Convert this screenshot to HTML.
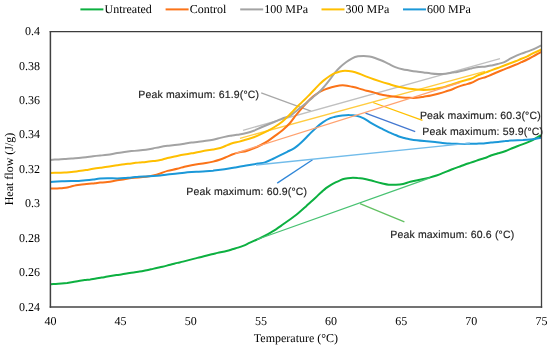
<!DOCTYPE html>
<html><head><meta charset="utf-8"><style>
html,body{margin:0;padding:0;background:#fff;}
body{width:550px;height:348px;overflow:hidden;}
svg{display:block;will-change:transform;text-rendering:geometricPrecision;}
.s{font-family:"Liberation Serif",serif;font-size:12px;fill:#000;}
.a{font-family:"Liberation Sans",sans-serif;font-size:10.5px;letter-spacing:0.16px;fill:#222;stroke:#222;stroke-width:0.15px;}
</style></head><body>
<svg width="550" height="348" viewBox="0 0 550 348">
<line x1="261.2" y1="92.9" x2="311.0" y2="111.2" stroke="#a8a8a8" stroke-width="1.3"/>
<line x1="373.0" y1="102.5" x2="422.5" y2="120.4" stroke="#ffc000" stroke-width="1.3"/>
<line x1="365.5" y1="113.2" x2="415.2" y2="131.7" stroke="#4478d0" stroke-width="1.3"/>
<line x1="277.2" y1="183.1" x2="312.6" y2="159.8" stroke="#2f86d8" stroke-width="1.3"/>
<line x1="360.0" y1="203.6" x2="404.4" y2="221.9" stroke="#62c062" stroke-width="1.3"/>
<line x1="243.0" y1="130.3" x2="500.0" y2="58.7" stroke="#c0c0c0" stroke-width="1.3"/>
<line x1="240.0" y1="138.3" x2="485.0" y2="71.4" stroke="#ffcc40" stroke-width="1.3"/>
<path d="M50.4,284.3 C51.3,284.2 53.9,284.1 55.7,284.0 C57.6,283.9 59.6,283.7 61.5,283.5 C63.4,283.3 65.3,283.1 67.2,282.9 C69.1,282.6 71.1,282.3 73.0,282.0 C74.9,281.7 76.8,281.2 78.7,280.9 C80.6,280.6 82.6,280.4 84.5,280.1 C86.4,279.9 88.3,279.6 90.2,279.4 C92.1,279.1 94.1,278.9 96.0,278.6 C97.9,278.3 99.8,277.9 101.7,277.6 C103.6,277.3 105.0,277.0 107.5,276.6 C110.0,276.2 114.0,275.5 116.5,275.1 C119.0,274.7 120.3,274.6 122.2,274.3 C124.1,274.0 126.1,273.6 128.0,273.3 C129.9,273.0 131.8,272.7 133.7,272.4 C135.6,272.1 137.6,271.9 139.5,271.6 C141.4,271.3 143.3,270.9 145.2,270.5 C147.1,270.1 149.1,269.7 151.0,269.3 C152.9,268.9 154.8,268.3 156.7,267.9 C158.6,267.5 160.2,267.2 162.5,266.7 C164.8,266.2 167.8,265.3 170.3,264.7 C172.8,264.1 175.4,263.4 177.5,262.9 C179.6,262.4 181.1,262.1 183.0,261.6 C184.9,261.1 186.8,260.6 188.7,260.1 C190.6,259.6 192.6,259.1 194.5,258.6 C196.4,258.1 198.3,257.7 200.2,257.2 C202.1,256.7 204.1,256.3 206.0,255.8 C207.9,255.3 209.8,254.8 211.7,254.3 C213.6,253.8 215.0,253.5 217.5,252.9 C220.0,252.3 224.1,251.6 226.5,251.0 C228.9,250.4 230.3,249.9 232.2,249.3 C234.1,248.7 236.1,248.2 238.0,247.6 C239.9,247.0 241.7,246.4 243.7,245.6 C245.7,244.8 247.9,243.5 250.0,242.6 C252.1,241.7 254.2,240.8 256.0,240.0 C257.8,239.2 259.3,238.4 261.0,237.6 C262.7,236.8 264.3,236.0 266.0,235.1 C267.7,234.2 269.3,233.3 271.0,232.3 C272.7,231.3 274.3,230.4 276.0,229.3 C277.7,228.2 279.3,227.1 281.0,225.9 C282.7,224.7 284.3,223.4 286.0,222.2 C287.7,221.0 289.3,219.9 291.0,218.7 C292.7,217.5 294.3,216.3 296.0,215.0 C297.7,213.7 299.3,212.2 301.0,210.8 C302.7,209.4 304.3,207.9 306.0,206.4 C307.7,204.9 309.3,203.3 311.0,201.8 C312.7,200.3 314.3,198.8 316.0,197.2 C317.7,195.6 319.3,194.0 321.0,192.5 C322.7,191.0 324.3,189.4 326.0,188.1 C327.7,186.8 329.3,185.8 331.0,184.8 C332.7,183.8 334.4,183.0 336.0,182.2 C337.6,181.4 339.1,180.8 340.5,180.2 C341.9,179.6 342.9,179.2 344.6,178.8 C346.3,178.4 348.5,178.0 350.7,177.9 C352.9,177.8 354.9,177.8 357.6,178.1 C360.4,178.3 364.4,178.8 367.2,179.4 C370.0,180.0 372.0,180.8 374.4,181.4 C376.8,182.1 379.1,182.8 381.5,183.3 C383.9,183.8 386.3,184.5 388.7,184.7 C391.1,184.9 393.5,184.8 395.9,184.7 C398.3,184.6 400.7,184.4 403.1,183.9 C405.5,183.4 407.9,182.4 410.3,181.8 C412.7,181.2 415.5,180.6 417.5,180.2 C419.5,179.8 420.2,179.6 422.2,179.2 C424.2,178.8 427.0,178.2 429.4,177.6 C431.8,177.0 434.5,176.2 436.5,175.5 C438.5,174.8 439.8,174.3 441.5,173.6 C443.2,172.9 445.1,172.2 447.0,171.4 C448.9,170.6 451.0,169.8 453.0,169.0 C455.0,168.2 456.9,167.6 458.8,166.9 C460.7,166.2 462.6,165.4 464.5,164.7 C466.4,164.0 468.1,163.5 470.0,162.9 C471.9,162.3 474.1,161.6 476.0,160.9 C477.9,160.2 479.7,159.6 481.5,159.0 C483.3,158.4 485.4,157.9 487.0,157.3 C488.6,156.7 489.0,156.2 490.9,155.5 C492.8,154.8 495.6,154.1 498.1,153.3 C500.6,152.6 503.5,151.8 505.7,151.0 C507.9,150.2 509.6,149.3 511.5,148.5 C513.4,147.7 515.3,146.9 517.2,146.2 C519.1,145.5 521.1,144.8 523.0,144.1 C524.9,143.4 526.8,142.7 528.7,141.8 C530.6,141.0 532.5,140.1 534.5,139.0 C536.5,137.9 539.9,135.7 541.0,135.0" fill="none" stroke="#0cb040" stroke-width="2" stroke-linejoin="round" stroke-linecap="butt"/>
<path d="M50.4,188.5 C51.5,188.5 55.3,188.5 57.2,188.4 C59.1,188.3 60.3,188.3 62.0,188.2 C63.7,188.0 65.8,187.8 67.3,187.5 C68.8,187.2 69.8,186.8 71.0,186.5 C72.2,186.2 73.3,185.9 74.5,185.6 C75.7,185.3 76.8,185.1 78.0,184.9 C79.2,184.7 80.0,184.7 81.8,184.5 C83.6,184.3 86.9,184.0 89.1,183.8 C91.3,183.6 93.2,183.5 95.0,183.3 C96.8,183.1 97.9,182.8 100.0,182.6 C102.1,182.4 104.6,182.5 107.5,182.1 C110.4,181.7 114.4,180.8 117.2,180.3 C120.0,179.8 122.0,179.7 124.4,179.3 C126.8,178.9 129.1,178.4 131.5,178.1 C133.9,177.8 136.3,177.6 138.7,177.4 C141.1,177.2 143.5,177.0 145.9,176.7 C148.3,176.4 150.7,176.0 153.1,175.5 C155.5,175.0 157.9,174.3 160.3,173.5 C162.7,172.7 164.7,171.7 167.5,170.9 C170.3,170.1 174.4,169.5 177.2,168.8 C180.0,168.1 182.0,167.3 184.4,166.7 C186.8,166.1 189.1,165.6 191.5,165.2 C193.9,164.8 196.3,164.4 198.7,164.1 C201.1,163.8 203.5,163.5 205.9,163.1 C208.3,162.7 210.7,162.2 213.1,161.6 C215.5,161.0 217.9,160.3 220.3,159.5 C222.7,158.7 225.5,157.4 227.5,156.6 C229.5,155.8 230.2,155.2 232.2,154.5 C234.2,153.8 237.0,153.0 239.4,152.4 C241.8,151.8 244.1,151.7 246.5,151.0 C248.9,150.3 251.3,149.4 253.7,148.4 C256.1,147.4 258.5,146.3 260.9,145.0 C263.3,143.7 265.7,142.4 268.1,140.8 C270.5,139.2 272.9,137.4 275.3,135.6 C277.7,133.9 280.1,132.4 282.5,130.3 C284.9,128.2 287.8,125.5 290.0,123.0 C292.2,120.5 293.8,117.9 295.7,115.5 C297.6,113.1 299.6,110.8 301.5,108.6 C303.4,106.4 305.3,104.2 307.2,102.2 C309.1,100.2 311.1,98.1 313.0,96.5 C314.9,94.9 316.8,93.7 318.7,92.5 C320.6,91.3 322.4,90.5 324.5,89.6 C326.6,88.7 329.1,87.9 331.6,87.2 C334.1,86.5 337.3,85.8 339.5,85.5 C341.7,85.2 342.9,85.2 345.0,85.4 C347.1,85.6 349.8,86.3 352.2,86.8 C354.6,87.3 357.0,87.9 359.4,88.6 C361.8,89.2 364.1,90.1 366.5,90.7 C368.9,91.3 371.3,91.8 373.7,92.4 C376.1,93.0 378.5,93.9 380.9,94.5 C383.3,95.1 385.7,95.4 388.1,95.8 C390.5,96.2 392.9,96.5 395.3,96.8 C397.7,97.1 400.1,97.2 402.5,97.4 C404.9,97.6 407.1,97.7 409.4,97.8 C411.7,97.9 414.1,98.0 416.5,97.8 C418.9,97.6 421.3,97.1 423.7,96.7 C426.1,96.3 428.5,96.0 430.9,95.5 C433.3,95.0 435.7,94.5 438.1,93.8 C440.5,93.1 442.9,92.4 445.3,91.6 C447.7,90.8 450.5,90.0 452.5,89.2 C454.5,88.5 455.2,87.8 457.2,87.1 C459.2,86.4 462.0,85.5 464.4,84.8 C466.8,84.1 469.1,83.7 471.5,82.8 C473.9,81.9 476.3,80.2 478.7,79.2 C481.1,78.2 483.7,77.8 485.9,77.0 C488.1,76.2 489.8,75.3 491.8,74.5 C493.8,73.7 495.7,72.8 497.7,72.0 C499.7,71.2 501.6,70.4 503.6,69.6 C505.6,68.8 507.5,68.0 509.5,67.2 C511.5,66.4 513.5,65.6 515.5,64.8 C517.5,64.0 519.4,63.1 521.4,62.2 C523.4,61.3 525.3,60.5 527.3,59.5 C529.3,58.5 530.8,57.6 533.2,56.3 C535.6,55.0 540.1,52.5 541.5,51.8" fill="none" stroke="#fb7318" stroke-width="2" stroke-linejoin="round" stroke-linecap="butt"/>
<path d="M50.4,160.0 C51.5,159.9 54.9,159.6 57.2,159.4 C59.5,159.2 62.0,159.1 64.4,158.9 C66.8,158.7 69.1,158.6 71.5,158.4 C73.9,158.2 76.3,158.1 78.7,157.9 C81.1,157.7 83.5,157.5 85.9,157.2 C88.3,156.9 90.7,156.5 93.1,156.2 C95.5,155.9 97.9,155.7 100.3,155.5 C102.7,155.3 104.7,155.2 107.5,154.8 C110.3,154.4 114.4,153.5 117.2,153.0 C120.0,152.5 122.0,152.3 124.4,152.0 C126.8,151.7 129.1,151.4 131.5,151.1 C133.9,150.8 136.3,150.6 138.7,150.4 C141.1,150.2 143.5,150.0 145.9,149.7 C148.3,149.4 150.7,148.9 153.1,148.4 C155.5,147.9 157.9,147.3 160.3,146.9 C162.7,146.5 164.7,146.2 167.5,145.8 C170.3,145.5 174.4,145.2 177.2,144.8 C180.0,144.5 182.0,144.1 184.4,143.7 C186.8,143.3 189.1,142.8 191.5,142.5 C193.9,142.2 196.3,142.1 198.7,141.8 C201.1,141.5 203.5,141.2 205.9,140.8 C208.3,140.5 210.7,140.2 213.1,139.7 C215.5,139.2 217.9,138.5 220.3,137.9 C222.7,137.3 225.5,136.6 227.5,136.2 C229.5,135.8 230.2,135.9 232.2,135.6 C234.2,135.3 237.0,134.8 239.4,134.4 C241.8,134.0 244.1,133.6 246.5,133.0 C248.9,132.4 251.3,131.7 253.7,130.8 C256.1,129.9 258.5,128.6 260.9,127.5 C263.3,126.5 265.7,125.5 268.1,124.5 C270.5,123.5 272.9,122.5 275.3,121.5 C277.7,120.5 280.1,119.4 282.5,118.4 C284.9,117.5 287.8,117.0 290.0,115.8 C292.2,114.6 294.0,112.8 295.7,111.5 C297.4,110.2 298.4,109.2 300.0,108.0 C301.6,106.8 303.3,105.4 305.0,104.0 C306.7,102.6 308.3,101.2 310.0,99.8 C311.7,98.4 313.3,97.0 315.0,95.6 C316.7,94.2 318.3,92.8 320.0,91.2 C321.7,89.6 323.3,87.7 325.0,85.7 C326.7,83.7 328.3,81.6 330.0,79.4 C331.7,77.2 333.3,74.6 335.0,72.6 C336.7,70.6 338.2,68.9 340.0,67.2 C341.8,65.5 344.0,63.7 346.0,62.2 C348.0,60.7 350.2,59.3 352.2,58.3 C354.2,57.3 356.1,56.7 358.0,56.3 C359.9,55.9 361.8,55.9 363.7,55.9 C365.6,55.9 367.6,56.1 369.5,56.5 C371.4,56.9 373.1,57.4 375.0,58.0 C376.9,58.6 378.7,59.4 380.9,60.3 C383.1,61.2 385.7,62.5 388.1,63.6 C390.5,64.7 392.9,66.2 395.3,67.1 C397.7,68.0 400.1,68.7 402.5,69.2 C404.9,69.8 407.1,70.0 409.4,70.4 C411.7,70.8 414.1,71.2 416.5,71.5 C418.9,71.8 421.3,72.2 423.7,72.5 C426.1,72.8 428.5,73.2 430.9,73.4 C433.3,73.7 435.7,73.9 438.1,74.0 C440.5,74.1 442.9,74.0 445.3,73.8 C447.7,73.6 450.5,72.9 452.5,72.6 C454.5,72.3 455.2,72.3 457.2,71.9 C459.2,71.5 462.0,70.8 464.4,70.2 C466.8,69.6 469.1,69.0 471.5,68.4 C473.9,67.9 476.3,67.2 478.7,66.9 C481.1,66.6 483.7,66.7 485.9,66.4 C488.1,66.2 489.8,65.8 491.8,65.4 C493.8,65.0 495.7,64.5 497.7,64.0 C499.7,63.5 502.1,63.0 503.6,62.4 C505.2,61.8 505.8,61.3 507.0,60.6 C508.2,59.9 509.2,59.2 510.7,58.4 C512.2,57.6 514.2,56.7 516.0,55.9 C517.8,55.1 519.5,54.3 521.4,53.6 C523.3,52.9 525.3,52.3 527.3,51.6 C529.3,50.9 530.8,50.5 533.2,49.4 C535.6,48.3 540.1,46.0 541.5,45.3" fill="none" stroke="#a3a3a3" stroke-width="2" stroke-linejoin="round" stroke-linecap="butt"/>
<path d="M50.4,173.0 C51.5,172.9 54.9,172.8 57.2,172.7 C59.5,172.6 62.0,172.7 64.4,172.6 C66.8,172.5 69.1,172.2 71.5,172.0 C73.9,171.8 76.3,171.4 78.7,171.1 C81.1,170.8 83.5,170.5 85.9,170.1 C88.3,169.7 90.7,169.1 93.1,168.7 C95.5,168.3 97.9,168.0 100.3,167.7 C102.7,167.4 104.7,167.2 107.5,166.8 C110.3,166.4 114.4,165.6 117.2,165.2 C120.0,164.8 122.0,164.5 124.4,164.2 C126.8,163.9 129.1,163.7 131.5,163.4 C133.9,163.1 136.3,162.8 138.7,162.6 C141.1,162.3 143.5,162.2 145.9,161.9 C148.3,161.7 150.7,161.4 153.1,161.1 C155.5,160.8 157.9,160.6 160.3,160.1 C162.7,159.6 164.7,158.7 167.5,158.0 C170.3,157.3 174.4,156.5 177.2,155.9 C180.0,155.3 182.0,154.9 184.4,154.5 C186.8,154.1 189.1,153.7 191.5,153.3 C193.9,152.9 196.3,152.4 198.7,152.0 C201.1,151.6 203.5,151.0 205.9,150.6 C208.3,150.2 210.7,149.8 213.1,149.4 C215.5,149.0 217.9,148.7 220.3,148.0 C222.7,147.3 225.5,145.9 227.5,145.1 C229.5,144.3 230.2,143.9 232.2,143.3 C234.2,142.7 237.0,142.2 239.4,141.6 C241.8,141.0 244.1,140.2 246.5,139.5 C248.9,138.8 251.3,138.2 253.7,137.3 C256.1,136.4 258.5,135.3 260.9,134.2 C263.3,133.1 265.7,132.0 268.1,130.7 C270.5,129.4 272.9,128.0 275.3,126.5 C277.7,125.0 280.1,123.5 282.5,121.5 C284.9,119.5 287.9,116.3 290.0,114.2 C292.1,112.1 293.3,110.7 295.0,109.0 C296.7,107.3 298.3,105.7 300.0,104.1 C301.7,102.5 303.3,100.8 305.0,99.2 C306.7,97.6 308.3,95.9 310.0,94.2 C311.7,92.5 313.3,90.8 315.0,89.0 C316.7,87.2 318.3,85.3 320.0,83.7 C321.7,82.1 323.3,80.7 325.0,79.4 C326.7,78.1 328.3,76.8 330.0,75.8 C331.7,74.8 333.3,73.9 335.0,73.2 C336.7,72.5 338.3,71.9 340.0,71.5 C341.7,71.1 343.0,70.8 345.0,70.8 C347.0,70.8 349.8,71.1 352.2,71.6 C354.6,72.1 357.0,72.9 359.4,73.7 C361.8,74.5 364.1,75.7 366.5,76.6 C368.9,77.5 371.3,78.4 373.7,79.2 C376.1,80.0 378.5,80.8 380.9,81.6 C383.3,82.4 385.7,83.1 388.1,83.8 C390.5,84.5 392.9,85.4 395.3,86.0 C397.7,86.6 400.1,87.1 402.5,87.6 C404.9,88.1 407.1,88.5 409.4,88.8 C411.7,89.1 414.1,89.3 416.5,89.5 C418.9,89.7 421.3,89.9 423.7,89.9 C426.1,89.9 428.5,89.8 430.9,89.5 C433.3,89.2 435.7,88.8 438.1,88.3 C440.5,87.8 442.9,87.3 445.3,86.6 C447.7,85.9 450.5,84.8 452.5,84.2 C454.5,83.6 455.2,83.4 457.2,82.8 C459.2,82.2 462.0,81.2 464.4,80.5 C466.8,79.8 469.1,79.4 471.5,78.5 C473.9,77.6 476.3,76.0 478.7,75.0 C481.1,74.0 483.7,73.2 485.9,72.4 C488.1,71.6 489.8,70.8 491.8,70.1 C493.8,69.4 495.7,68.7 497.7,68.0 C499.7,67.3 501.6,66.5 503.6,65.8 C505.6,65.0 507.5,64.2 509.5,63.5 C511.5,62.8 513.5,62.1 515.5,61.3 C517.5,60.5 519.4,59.6 521.4,58.8 C523.4,58.0 525.3,57.2 527.3,56.3 C529.3,55.4 530.8,54.3 533.2,53.2 C535.6,52.1 540.1,50.1 541.5,49.5" fill="none" stroke="#ffbf00" stroke-width="2" stroke-linejoin="round" stroke-linecap="butt"/>
<path d="M50.4,181.9 C51.5,181.8 54.9,181.6 57.2,181.5 C59.5,181.4 62.0,181.3 64.4,181.2 C66.8,181.1 69.1,181.1 71.5,181.1 C73.9,181.1 76.3,181.0 78.7,180.9 C81.1,180.8 83.5,180.5 85.9,180.3 C88.3,180.1 90.8,179.8 93.1,179.5 C95.4,179.2 97.6,178.8 100.0,178.6 C102.4,178.4 104.6,178.3 107.5,178.3 C110.4,178.3 114.4,178.4 117.2,178.4 C120.0,178.4 122.0,178.3 124.4,178.1 C126.8,177.9 129.1,177.6 131.5,177.4 C133.9,177.2 136.3,176.9 138.7,176.7 C141.1,176.5 143.5,176.5 145.9,176.4 C148.3,176.3 150.7,176.1 153.1,175.9 C155.5,175.8 157.9,175.7 160.3,175.5 C162.7,175.3 164.7,174.8 167.5,174.5 C170.3,174.2 174.4,173.9 177.2,173.6 C180.0,173.3 182.0,173.0 184.4,172.7 C186.8,172.4 189.1,172.2 191.5,172.0 C193.9,171.8 196.3,171.8 198.7,171.7 C201.1,171.6 203.5,171.5 205.9,171.3 C208.3,171.1 210.7,170.9 213.1,170.7 C215.5,170.4 217.9,170.1 220.3,169.8 C222.7,169.5 225.1,169.2 227.5,168.8 C229.9,168.4 232.3,168.0 235.0,167.5 C237.7,167.0 240.9,166.4 243.6,166.0 C246.3,165.6 248.6,165.2 251.0,164.8 C253.4,164.4 255.7,164.0 258.0,163.6 C260.3,163.2 262.6,163.2 265.0,162.4 C267.4,161.6 270.2,160.2 272.7,159.0 C275.2,157.8 277.6,156.6 280.0,155.4 C282.4,154.2 284.8,153.0 287.2,151.8 C289.6,150.6 292.0,149.7 294.4,148.1 C296.8,146.5 299.1,144.4 301.5,142.2 C303.9,140.0 306.3,137.4 308.7,135.0 C311.1,132.6 313.5,130.0 315.9,127.9 C318.3,125.7 320.7,123.7 323.1,122.1 C325.5,120.5 328.3,119.1 330.3,118.2 C332.3,117.3 333.0,117.3 335.0,116.8 C337.0,116.3 339.8,115.7 342.2,115.4 C344.6,115.1 347.0,114.8 349.4,114.9 C351.8,114.9 354.1,115.1 356.5,115.7 C358.9,116.3 361.3,117.1 363.7,118.3 C366.1,119.5 368.4,121.4 370.9,122.9 C373.4,124.4 376.6,126.0 378.6,127.1 C380.6,128.2 381.6,128.6 383.0,129.3 C384.4,130.0 385.8,130.7 387.2,131.4 C388.6,132.1 390.1,132.7 391.5,133.3 C392.9,133.9 394.2,134.5 395.5,135.0 C396.8,135.5 397.9,136.1 399.0,136.5 C400.1,136.9 401.1,137.2 402.3,137.5 C403.5,137.8 404.8,138.2 406.0,138.5 C407.2,138.8 407.7,138.9 409.5,139.2 C411.3,139.5 414.4,140.0 416.8,140.3 C419.2,140.6 421.1,140.8 424.1,141.1 C427.1,141.4 431.9,141.8 435.0,142.1 C438.1,142.4 440.2,142.8 442.5,143.0 C444.8,143.2 446.9,143.5 449.0,143.6 C451.1,143.7 452.8,143.6 455.0,143.7 C457.2,143.8 459.8,144.0 462.2,144.0 C464.6,144.0 467.0,143.8 469.4,143.7 C471.8,143.6 474.1,143.8 476.5,143.7 C478.9,143.6 481.3,143.6 483.7,143.4 C486.1,143.2 488.5,142.7 490.9,142.5 C493.3,142.3 495.7,142.2 498.1,142.0 C500.5,141.8 502.9,141.3 505.3,141.1 C507.7,140.8 509.6,140.7 512.5,140.5 C515.5,140.3 519.3,140.3 523.0,140.1 C526.7,139.8 531.5,139.4 534.5,139.0 C537.5,138.6 539.9,138.0 541.0,137.8" fill="none" stroke="#1b98d8" stroke-width="2" stroke-linejoin="round" stroke-linecap="butt"/>
<line x1="235.3" y1="153.3" x2="460.0" y2="82.6" stroke="#ffa270" stroke-width="1.3"/>
<line x1="256.0" y1="165.0" x2="470.0" y2="143.2" stroke="#72bcea" stroke-width="1.3"/>
<line x1="257.0" y1="239.5" x2="430.0" y2="177.8" stroke="#48c272" stroke-width="1.3"/>
<line x1="49.7" y1="31.5" x2="542.2" y2="31.5" stroke="#3c3c3c" stroke-width="1.25"/>
<line x1="49.7" y1="307" x2="542.2" y2="307" stroke="#444" stroke-width="1.6"/>
<line x1="50.4" y1="30.9" x2="50.4" y2="307.8" stroke="#404040" stroke-width="1.5"/>
<line x1="541.5" y1="30.9" x2="541.5" y2="307.8" stroke="#404040" stroke-width="1.3"/>
<text x="40" y="35.1" text-anchor="end" class="s">0.4</text>
<text x="40" y="69.5" text-anchor="end" class="s">0.38</text>
<text x="40" y="103.9" text-anchor="end" class="s">0.36</text>
<text x="40" y="138.4" text-anchor="end" class="s">0.34</text>
<text x="40" y="172.8" text-anchor="end" class="s">0.32</text>
<text x="40" y="207.2" text-anchor="end" class="s">0.3</text>
<text x="40" y="241.6" text-anchor="end" class="s">0.28</text>
<text x="40" y="276.1" text-anchor="end" class="s">0.26</text>
<text x="40" y="310.5" text-anchor="end" class="s">0.24</text>
<text x="50.4" y="325" text-anchor="middle" class="s">40</text>
<text x="120.6" y="325" text-anchor="middle" class="s">45</text>
<text x="190.7" y="325" text-anchor="middle" class="s">50</text>
<text x="260.9" y="325" text-anchor="middle" class="s">55</text>
<text x="331.0" y="325" text-anchor="middle" class="s">60</text>
<text x="401.2" y="325" text-anchor="middle" class="s">65</text>
<text x="471.3" y="325" text-anchor="middle" class="s">70</text>
<text x="541.5" y="325" text-anchor="middle" class="s">75</text>
<text x="296" y="342" text-anchor="middle" class="s">Temperature (°C)</text>
<text transform="translate(12.8,169) rotate(-90)" text-anchor="middle" class="s">Heat flow (J/g)</text>
<line x1="80.4" y1="9.4" x2="103.4" y2="9.4" stroke="#0cb040" stroke-width="2"/>
<text x="104.5" y="13" class="s">Untreated</text>
<line x1="165.6" y1="9.4" x2="188.6" y2="9.4" stroke="#fb7318" stroke-width="2"/>
<text x="189.7" y="13" class="s">Control</text>
<line x1="240.2" y1="9.4" x2="263.2" y2="9.4" stroke="#a3a3a3" stroke-width="2"/>
<text x="264.3" y="13" class="s">100 MPa</text>
<line x1="321.5" y1="9.4" x2="344.5" y2="9.4" stroke="#ffbf00" stroke-width="2"/>
<text x="345.6" y="13" class="s">300 MPa</text>
<line x1="403.0" y1="9.4" x2="426.0" y2="9.4" stroke="#1b98d8" stroke-width="2"/>
<text x="427.1" y="13" class="s">600 MPa</text>
<text x="138.3" y="97.9" class="a">Peak maximum: 61.9(°C)</text>
<text x="419.9" y="118.8" class="a">Peak maximum: 60.3(°C)</text>
<text x="422.3" y="135.1" class="a">Peak maximum: 59.9(°C)</text>
<text x="186.3" y="195.2" class="a">Peak maximum: 60.9(°C)</text>
<text x="390.3" y="238.3" class="a">Peak maximum: 60.6 (°C)</text>
</svg>
</body></html>
